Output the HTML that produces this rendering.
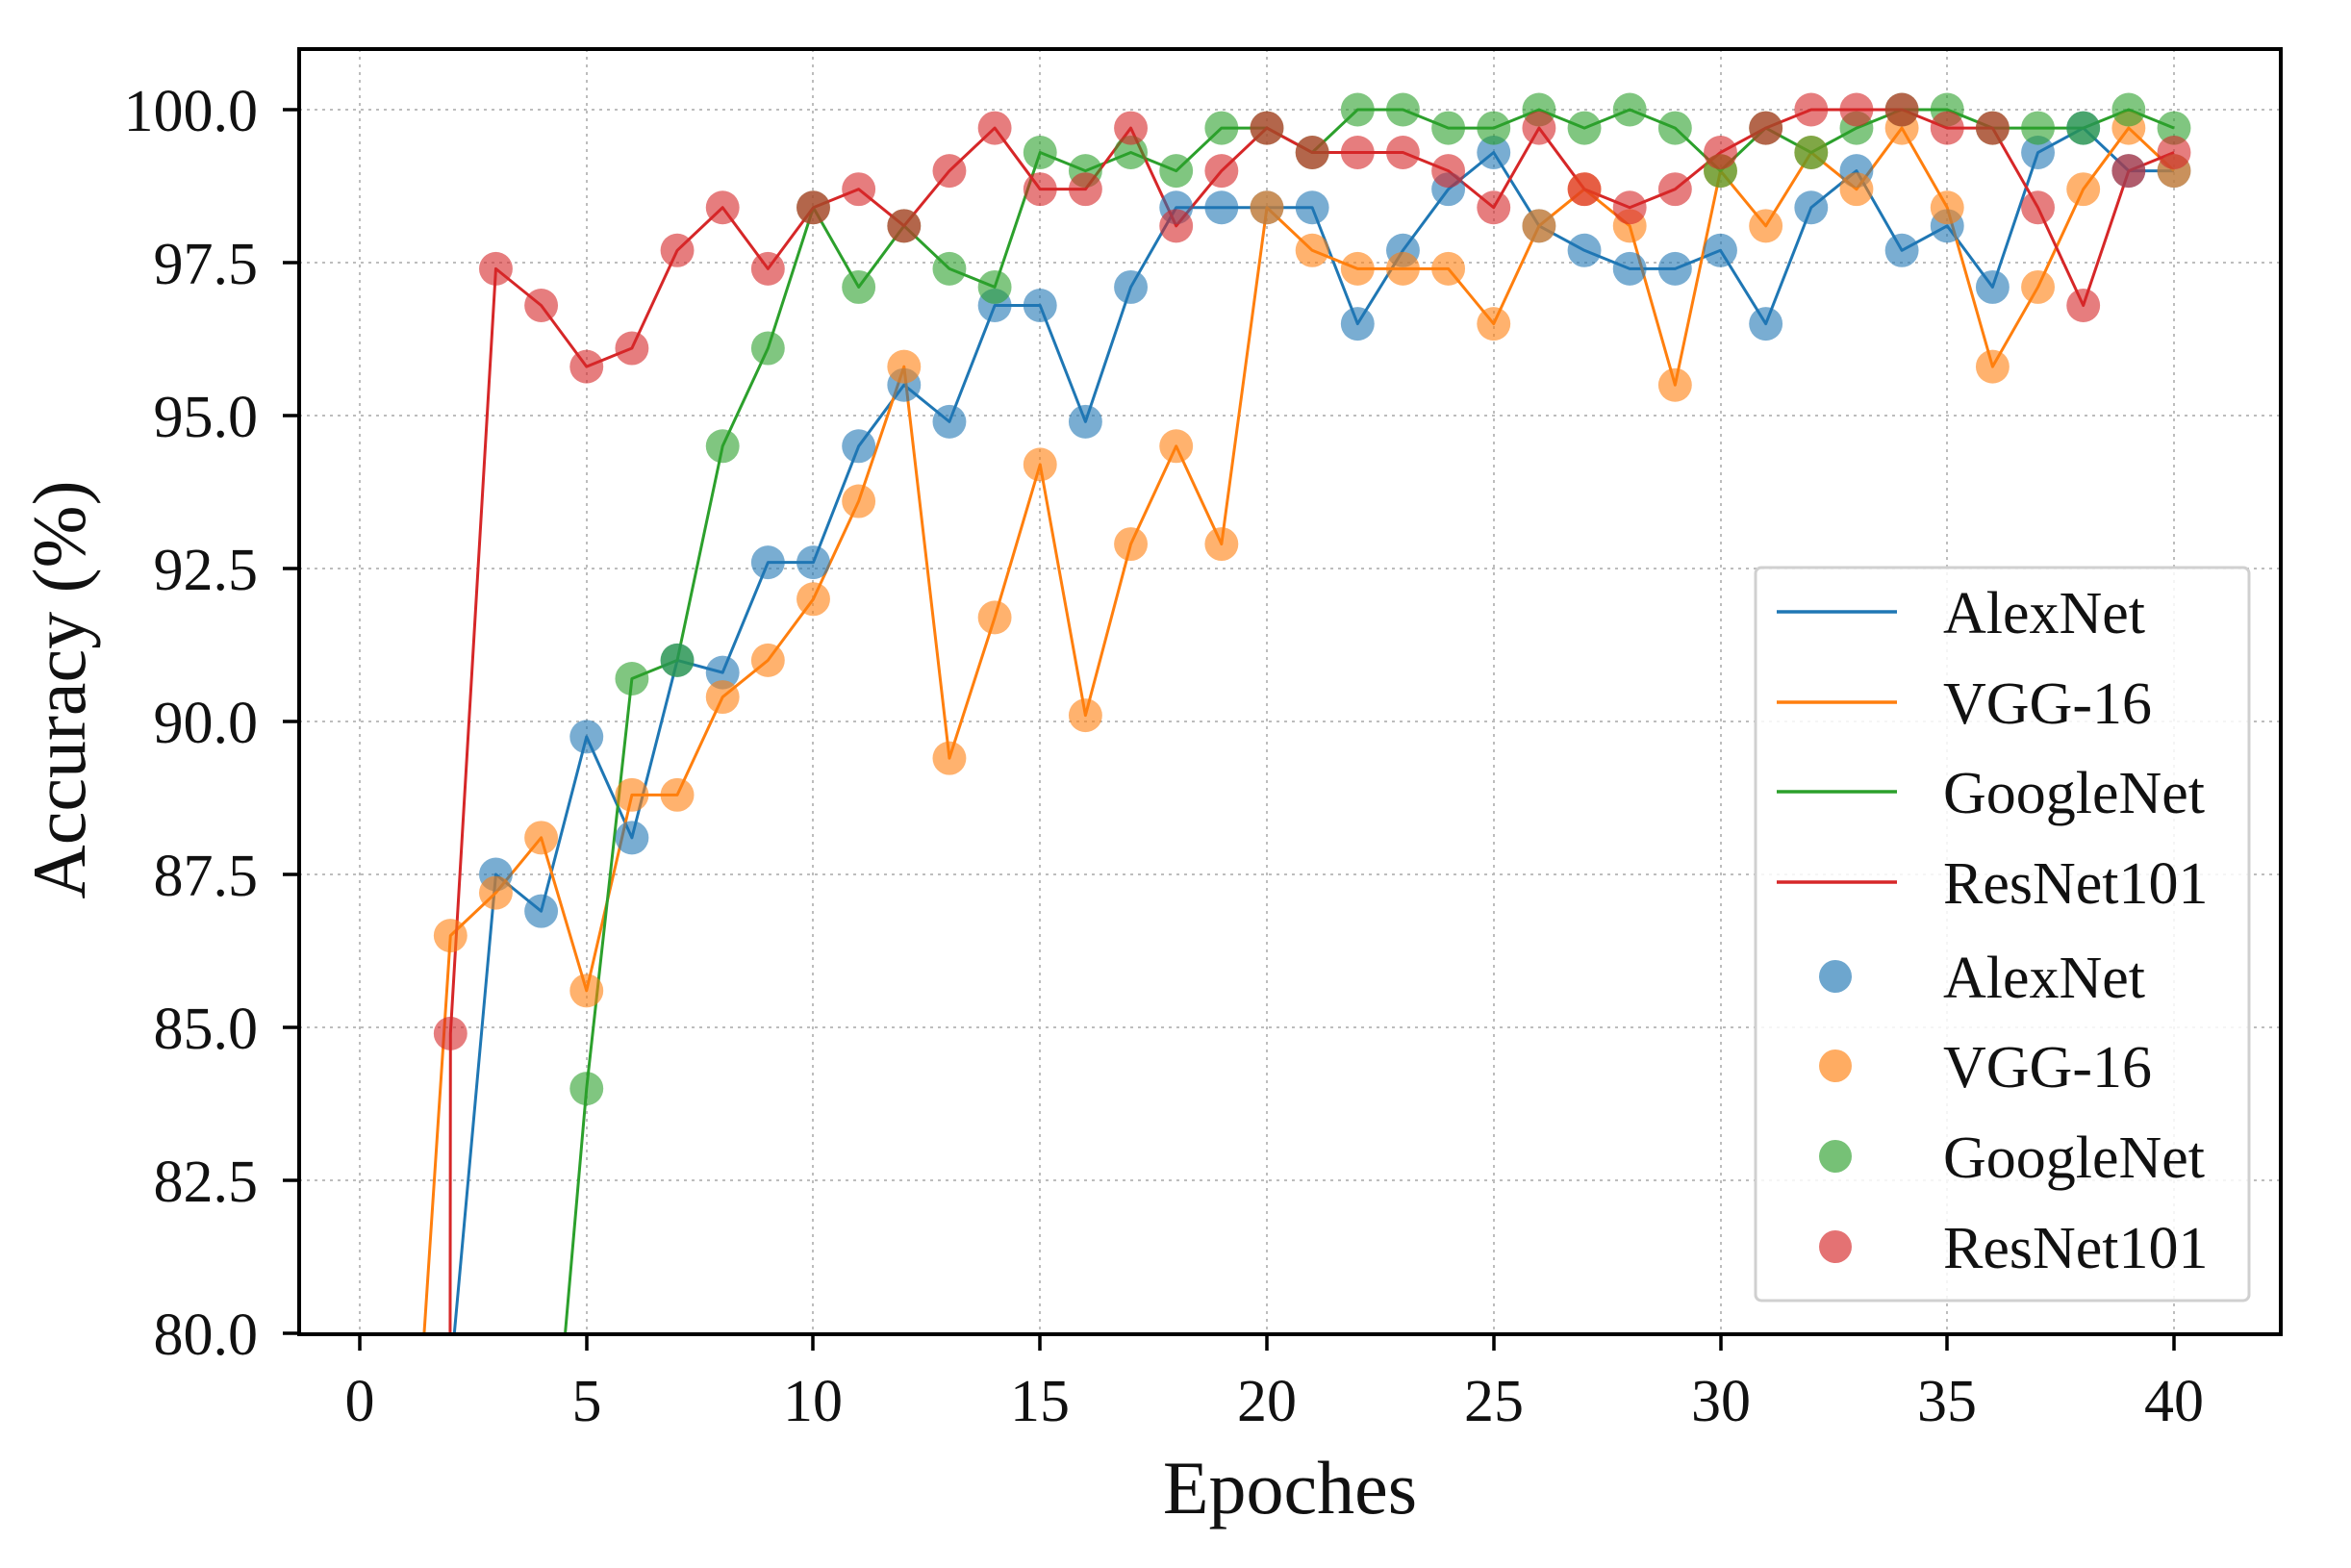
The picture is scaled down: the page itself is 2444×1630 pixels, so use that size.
<!DOCTYPE html>
<html><head><meta charset="utf-8"><style>
html,body{margin:0;padding:0;background:#fff;width:2444px;height:1630px;overflow:hidden;}
svg{display:block;}
text{font-family:"Liberation Serif",serif;fill:#111;}
</style></head><body>
<svg width="2444" height="1630" viewBox="0 0 2444 1630" xmlns="http://www.w3.org/2000/svg">
<defs>
<clipPath id="ax"><rect x="-1.34" y="80" width="43.69" height="21"/></clipPath>
</defs>
<rect width="2444" height="1630" fill="#fff"/>
<!-- grid -->
<g stroke="#bdbdbd" stroke-width="2" stroke-dasharray="3,5">
<line x1="374" y1="51" x2="374" y2="1386"/><line x1="610" y1="51" x2="610" y2="1386"/>
<line x1="845" y1="51" x2="845" y2="1386"/><line x1="1081" y1="51" x2="1081" y2="1386"/>
<line x1="1317" y1="51" x2="1317" y2="1386"/><line x1="1553" y1="51" x2="1553" y2="1386"/>
<line x1="1789" y1="51" x2="1789" y2="1386"/><line x1="2024" y1="51" x2="2024" y2="1386"/>
<line x1="2260" y1="51" x2="2260" y2="1386"/>
<line x1="311" y1="114" x2="2371" y2="114"/><line x1="311" y1="273" x2="2371" y2="273"/>
<line x1="311" y1="432" x2="2371" y2="432"/><line x1="311" y1="591" x2="2371" y2="591"/>
<line x1="311" y1="750" x2="2371" y2="750"/><line x1="311" y1="909" x2="2371" y2="909"/>
<line x1="311" y1="1068" x2="2371" y2="1068"/><line x1="311" y1="1227" x2="2371" y2="1227"/>
</g>
<g transform="matrix(47.15,0,0,-63.6,374,6474)" clip-path="url(#ax)">
<g fill="none" stroke-width="3" stroke-linejoin="round">
<polyline vector-effect="non-scaling-stroke" stroke="#1f77b4" points="2,79.3 3,87.5 4,86.9 5,89.75 6,88.1 7,91.0 8,90.8 9,92.6 10,92.6 11,94.5 12,95.5 13,94.9 14,96.8 15,96.8 16,94.9 17,97.1 18,98.4 19,98.4 20,98.4 21,98.4 22,96.5 23,97.7 24,98.7 25,99.3 26,98.1 27,97.7 28,97.4 29,97.4 30,97.7 31,96.5 32,98.4 33,99.0 34,97.7 35,98.1 36,97.1 37,99.3 38,99.7 39,99.0 40,99.0"/>
<polyline vector-effect="non-scaling-stroke" stroke="#ff7f0e" points="1,75.3 2,86.5 3,87.2 4,88.1 5,85.6 6,88.8 7,88.8 8,90.4 9,91.0 10,92.0 11,93.6 12,95.8 13,89.4 14,91.7 15,94.2 16,90.1 17,92.9 18,94.5 19,92.9 20,98.4 21,97.7 22,97.4 23,97.4 24,97.4 25,96.5 26,98.1 27,98.7 28,98.1 29,95.5 30,99.0 31,98.1 32,99.3 33,98.7 34,99.7 35,98.4 36,95.8 37,97.1 38,98.7 39,99.7 40,99.0"/>
<polyline vector-effect="non-scaling-stroke" stroke="#2ca02c" points="4,75.5 5,84.0 6,90.7 7,91.0 8,94.5 9,96.1 10,98.4 11,97.1 12,98.1 13,97.4 14,97.1 15,99.3 16,99.0 17,99.3 18,99.0 19,99.7 20,99.7 21,99.3 22,100 23,100 24,99.7 25,99.7 26,100 27,99.7 28,100 29,99.7 30,99.0 31,99.7 32,99.3 33,99.7 34,100 35,100 36,99.7 37,99.7 38,99.7 39,100 40,99.7"/>
<polyline vector-effect="non-scaling-stroke" stroke="#d62728" points="1.9,20 2,84.9 3,97.4 4,96.8 5,95.8 6,96.1 7,97.7 8,98.4 9,97.4 10,98.4 11,98.7 12,98.1 13,99.0 14,99.7 15,98.7 16,98.7 17,99.7 18,98.1 19,99.0 20,99.7 21,99.3 22,99.3 23,99.3 24,99.0 25,98.4 26,99.7 27,98.7 28,98.4 29,98.7 30,99.3 31,99.7 32,100 33,100 34,100 35,99.7 36,99.7 37,98.4 38,96.8 39,99.0 40,99.3"/>
</g>
<g fill="#1f77b4" fill-opacity="0.6">
<ellipse cx="3" cy="87.5" rx="0.37" ry="0.275"/><ellipse cx="4" cy="86.9" rx="0.37" ry="0.275"/><ellipse cx="5" cy="89.75" rx="0.37" ry="0.275"/><ellipse cx="6" cy="88.1" rx="0.37" ry="0.275"/><ellipse cx="7" cy="91.0" rx="0.37" ry="0.275"/><ellipse cx="8" cy="90.8" rx="0.37" ry="0.275"/><ellipse cx="9" cy="92.6" rx="0.37" ry="0.275"/><ellipse cx="10" cy="92.6" rx="0.37" ry="0.275"/><ellipse cx="11" cy="94.5" rx="0.37" ry="0.275"/><ellipse cx="12" cy="95.5" rx="0.37" ry="0.275"/><ellipse cx="13" cy="94.9" rx="0.37" ry="0.275"/><ellipse cx="14" cy="96.8" rx="0.37" ry="0.275"/><ellipse cx="15" cy="96.8" rx="0.37" ry="0.275"/><ellipse cx="16" cy="94.9" rx="0.37" ry="0.275"/><ellipse cx="17" cy="97.1" rx="0.37" ry="0.275"/><ellipse cx="18" cy="98.4" rx="0.37" ry="0.275"/><ellipse cx="19" cy="98.4" rx="0.37" ry="0.275"/><ellipse cx="20" cy="98.4" rx="0.37" ry="0.275"/><ellipse cx="21" cy="98.4" rx="0.37" ry="0.275"/><ellipse cx="22" cy="96.5" rx="0.37" ry="0.275"/><ellipse cx="23" cy="97.7" rx="0.37" ry="0.275"/><ellipse cx="24" cy="98.7" rx="0.37" ry="0.275"/><ellipse cx="25" cy="99.3" rx="0.37" ry="0.275"/><ellipse cx="26" cy="98.1" rx="0.37" ry="0.275"/><ellipse cx="27" cy="97.7" rx="0.37" ry="0.275"/><ellipse cx="28" cy="97.4" rx="0.37" ry="0.275"/><ellipse cx="29" cy="97.4" rx="0.37" ry="0.275"/><ellipse cx="30" cy="97.7" rx="0.37" ry="0.275"/><ellipse cx="31" cy="96.5" rx="0.37" ry="0.275"/><ellipse cx="32" cy="98.4" rx="0.37" ry="0.275"/><ellipse cx="33" cy="99.0" rx="0.37" ry="0.275"/><ellipse cx="34" cy="97.7" rx="0.37" ry="0.275"/><ellipse cx="35" cy="98.1" rx="0.37" ry="0.275"/><ellipse cx="36" cy="97.1" rx="0.37" ry="0.275"/><ellipse cx="37" cy="99.3" rx="0.37" ry="0.275"/><ellipse cx="38" cy="99.7" rx="0.37" ry="0.275"/><ellipse cx="39" cy="99.0" rx="0.37" ry="0.275"/><ellipse cx="40" cy="99.0" rx="0.37" ry="0.275"/>
</g>
<g fill="#ff7f0e" fill-opacity="0.6">
<ellipse cx="2" cy="86.5" rx="0.37" ry="0.275"/><ellipse cx="3" cy="87.2" rx="0.37" ry="0.275"/><ellipse cx="4" cy="88.1" rx="0.37" ry="0.275"/><ellipse cx="5" cy="85.6" rx="0.37" ry="0.275"/><ellipse cx="6" cy="88.8" rx="0.37" ry="0.275"/><ellipse cx="7" cy="88.8" rx="0.37" ry="0.275"/><ellipse cx="8" cy="90.4" rx="0.37" ry="0.275"/><ellipse cx="9" cy="91.0" rx="0.37" ry="0.275"/><ellipse cx="10" cy="92.0" rx="0.37" ry="0.275"/><ellipse cx="11" cy="93.6" rx="0.37" ry="0.275"/><ellipse cx="12" cy="95.8" rx="0.37" ry="0.275"/><ellipse cx="13" cy="89.4" rx="0.37" ry="0.275"/><ellipse cx="14" cy="91.7" rx="0.37" ry="0.275"/><ellipse cx="15" cy="94.2" rx="0.37" ry="0.275"/><ellipse cx="16" cy="90.1" rx="0.37" ry="0.275"/><ellipse cx="17" cy="92.9" rx="0.37" ry="0.275"/><ellipse cx="18" cy="94.5" rx="0.37" ry="0.275"/><ellipse cx="19" cy="92.9" rx="0.37" ry="0.275"/><ellipse cx="20" cy="98.4" rx="0.37" ry="0.275"/><ellipse cx="21" cy="97.7" rx="0.37" ry="0.275"/><ellipse cx="22" cy="97.4" rx="0.37" ry="0.275"/><ellipse cx="23" cy="97.4" rx="0.37" ry="0.275"/><ellipse cx="24" cy="97.4" rx="0.37" ry="0.275"/><ellipse cx="25" cy="96.5" rx="0.37" ry="0.275"/><ellipse cx="26" cy="98.1" rx="0.37" ry="0.275"/><ellipse cx="27" cy="98.7" rx="0.37" ry="0.275"/><ellipse cx="28" cy="98.1" rx="0.37" ry="0.275"/><ellipse cx="29" cy="95.5" rx="0.37" ry="0.275"/><ellipse cx="30" cy="99.0" rx="0.37" ry="0.275"/><ellipse cx="31" cy="98.1" rx="0.37" ry="0.275"/><ellipse cx="32" cy="99.3" rx="0.37" ry="0.275"/><ellipse cx="33" cy="98.7" rx="0.37" ry="0.275"/><ellipse cx="34" cy="99.7" rx="0.37" ry="0.275"/><ellipse cx="35" cy="98.4" rx="0.37" ry="0.275"/><ellipse cx="36" cy="95.8" rx="0.37" ry="0.275"/><ellipse cx="37" cy="97.1" rx="0.37" ry="0.275"/><ellipse cx="38" cy="98.7" rx="0.37" ry="0.275"/><ellipse cx="39" cy="99.7" rx="0.37" ry="0.275"/><ellipse cx="40" cy="99.0" rx="0.37" ry="0.275"/>
</g>
<g fill="#2ca02c" fill-opacity="0.6">
<ellipse cx="5" cy="84.0" rx="0.37" ry="0.275"/><ellipse cx="6" cy="90.7" rx="0.37" ry="0.275"/><ellipse cx="7" cy="91.0" rx="0.37" ry="0.275"/><ellipse cx="8" cy="94.5" rx="0.37" ry="0.275"/><ellipse cx="9" cy="96.1" rx="0.37" ry="0.275"/><ellipse cx="10" cy="98.4" rx="0.37" ry="0.275"/><ellipse cx="11" cy="97.1" rx="0.37" ry="0.275"/><ellipse cx="12" cy="98.1" rx="0.37" ry="0.275"/><ellipse cx="13" cy="97.4" rx="0.37" ry="0.275"/><ellipse cx="14" cy="97.1" rx="0.37" ry="0.275"/><ellipse cx="15" cy="99.3" rx="0.37" ry="0.275"/><ellipse cx="16" cy="99.0" rx="0.37" ry="0.275"/><ellipse cx="17" cy="99.3" rx="0.37" ry="0.275"/><ellipse cx="18" cy="99.0" rx="0.37" ry="0.275"/><ellipse cx="19" cy="99.7" rx="0.37" ry="0.275"/><ellipse cx="20" cy="99.7" rx="0.37" ry="0.275"/><ellipse cx="21" cy="99.3" rx="0.37" ry="0.275"/><ellipse cx="22" cy="100" rx="0.37" ry="0.275"/><ellipse cx="23" cy="100" rx="0.37" ry="0.275"/><ellipse cx="24" cy="99.7" rx="0.37" ry="0.275"/><ellipse cx="25" cy="99.7" rx="0.37" ry="0.275"/><ellipse cx="26" cy="100" rx="0.37" ry="0.275"/><ellipse cx="27" cy="99.7" rx="0.37" ry="0.275"/><ellipse cx="28" cy="100" rx="0.37" ry="0.275"/><ellipse cx="29" cy="99.7" rx="0.37" ry="0.275"/><ellipse cx="30" cy="99.0" rx="0.37" ry="0.275"/><ellipse cx="31" cy="99.7" rx="0.37" ry="0.275"/><ellipse cx="32" cy="99.3" rx="0.37" ry="0.275"/><ellipse cx="33" cy="99.7" rx="0.37" ry="0.275"/><ellipse cx="34" cy="100" rx="0.37" ry="0.275"/><ellipse cx="35" cy="100" rx="0.37" ry="0.275"/><ellipse cx="36" cy="99.7" rx="0.37" ry="0.275"/><ellipse cx="37" cy="99.7" rx="0.37" ry="0.275"/><ellipse cx="38" cy="99.7" rx="0.37" ry="0.275"/><ellipse cx="39" cy="100" rx="0.37" ry="0.275"/><ellipse cx="40" cy="99.7" rx="0.37" ry="0.275"/>
</g>
<g fill="#d62728" fill-opacity="0.6">
<ellipse cx="2" cy="84.9" rx="0.37" ry="0.275"/><ellipse cx="3" cy="97.4" rx="0.37" ry="0.275"/><ellipse cx="4" cy="96.8" rx="0.37" ry="0.275"/><ellipse cx="5" cy="95.8" rx="0.37" ry="0.275"/><ellipse cx="6" cy="96.1" rx="0.37" ry="0.275"/><ellipse cx="7" cy="97.7" rx="0.37" ry="0.275"/><ellipse cx="8" cy="98.4" rx="0.37" ry="0.275"/><ellipse cx="9" cy="97.4" rx="0.37" ry="0.275"/><ellipse cx="10" cy="98.4" rx="0.37" ry="0.275"/><ellipse cx="11" cy="98.7" rx="0.37" ry="0.275"/><ellipse cx="12" cy="98.1" rx="0.37" ry="0.275"/><ellipse cx="13" cy="99.0" rx="0.37" ry="0.275"/><ellipse cx="14" cy="99.7" rx="0.37" ry="0.275"/><ellipse cx="15" cy="98.7" rx="0.37" ry="0.275"/><ellipse cx="16" cy="98.7" rx="0.37" ry="0.275"/><ellipse cx="17" cy="99.7" rx="0.37" ry="0.275"/><ellipse cx="18" cy="98.1" rx="0.37" ry="0.275"/><ellipse cx="19" cy="99.0" rx="0.37" ry="0.275"/><ellipse cx="20" cy="99.7" rx="0.37" ry="0.275"/><ellipse cx="21" cy="99.3" rx="0.37" ry="0.275"/><ellipse cx="22" cy="99.3" rx="0.37" ry="0.275"/><ellipse cx="23" cy="99.3" rx="0.37" ry="0.275"/><ellipse cx="24" cy="99.0" rx="0.37" ry="0.275"/><ellipse cx="25" cy="98.4" rx="0.37" ry="0.275"/><ellipse cx="26" cy="99.7" rx="0.37" ry="0.275"/><ellipse cx="27" cy="98.7" rx="0.37" ry="0.275"/><ellipse cx="28" cy="98.4" rx="0.37" ry="0.275"/><ellipse cx="29" cy="98.7" rx="0.37" ry="0.275"/><ellipse cx="30" cy="99.3" rx="0.37" ry="0.275"/><ellipse cx="31" cy="99.7" rx="0.37" ry="0.275"/><ellipse cx="32" cy="100" rx="0.37" ry="0.275"/><ellipse cx="33" cy="100" rx="0.37" ry="0.275"/><ellipse cx="34" cy="100" rx="0.37" ry="0.275"/><ellipse cx="35" cy="99.7" rx="0.37" ry="0.275"/><ellipse cx="36" cy="99.7" rx="0.37" ry="0.275"/><ellipse cx="37" cy="98.4" rx="0.37" ry="0.275"/><ellipse cx="38" cy="96.8" rx="0.37" ry="0.275"/><ellipse cx="39" cy="99.0" rx="0.37" ry="0.275"/><ellipse cx="40" cy="99.3" rx="0.37" ry="0.275"/>
</g>
</g>
<!-- spines -->
<rect x="311" y="51" width="2060" height="1336" fill="none" stroke="#000" stroke-width="4"/>
<!-- ticks -->
<g stroke="#000" stroke-width="3.5">
<line x1="374" y1="1387" x2="374" y2="1404"/><line x1="610" y1="1387" x2="610" y2="1404"/><line x1="845" y1="1387" x2="845" y2="1404"/><line x1="1081" y1="1387" x2="1081" y2="1404"/><line x1="1317" y1="1387" x2="1317" y2="1404"/><line x1="1553" y1="1387" x2="1553" y2="1404"/><line x1="1789" y1="1387" x2="1789" y2="1404"/><line x1="2024" y1="1387" x2="2024" y2="1404"/><line x1="2260" y1="1387" x2="2260" y2="1404"/>
<line x1="294" y1="114" x2="311" y2="114"/><line x1="294" y1="273" x2="311" y2="273"/><line x1="294" y1="432" x2="311" y2="432"/><line x1="294" y1="591" x2="311" y2="591"/><line x1="294" y1="750" x2="311" y2="750"/><line x1="294" y1="909" x2="311" y2="909"/><line x1="294" y1="1068" x2="311" y2="1068"/><line x1="294" y1="1227" x2="311" y2="1227"/><line x1="294" y1="1386" x2="311" y2="1386"/>
</g>
<g font-size="62" text-anchor="middle">
<text x="374" y="1477">0</text><text x="610" y="1477">5</text><text x="845" y="1477">10</text><text x="1081" y="1477">15</text><text x="1317" y="1477">20</text><text x="1553" y="1477">25</text><text x="1789" y="1477">30</text><text x="2024" y="1477">35</text><text x="2260" y="1477">40</text>
</g>
<g font-size="62" text-anchor="end">
<text x="268" y="136">100.0</text><text x="268" y="295">97.5</text><text x="268" y="454">95.0</text><text x="268" y="613">92.5</text><text x="268" y="772">90.0</text><text x="268" y="931">87.5</text><text x="268" y="1090">85.0</text><text x="268" y="1249">82.5</text><text x="268" y="1408">80.0</text>
</g>
<text x="1341" y="1573" font-size="78" text-anchor="middle">Epoches</text>
<text transform="translate(88,717) rotate(-90)" font-size="78" text-anchor="middle">Accuracy (%)</text>
<!-- legend -->
<rect x="1825" y="590" width="513" height="762" rx="6" fill="#fff" fill-opacity="0.85" stroke="#d0d0d0" stroke-width="3"/>
<g stroke-width="3.5">
<line x1="1847" y1="636" x2="1972" y2="636" stroke="#1f77b4"/>
<line x1="1847" y1="730" x2="1972" y2="730" stroke="#ff7f0e"/>
<line x1="1847" y1="823" x2="1972" y2="823" stroke="#2ca02c"/>
<line x1="1847" y1="917" x2="1972" y2="917" stroke="#d62728"/>
</g>
<g fill-opacity="0.65">
<circle cx="1908" cy="1015" r="17" fill="#1f77b4"/>
<circle cx="1908" cy="1108" r="17" fill="#ff7f0e"/>
<circle cx="1908" cy="1202" r="17" fill="#2ca02c"/>
<circle cx="1908" cy="1296" r="17" fill="#d62728"/>
</g>
<g font-size="62">
<text x="2020" y="658">AlexNet</text><text x="2020" y="752">VGG-16</text><text x="2020" y="845">GoogleNet</text><text x="2020" y="939">ResNet101</text>
<text x="2020" y="1037">AlexNet</text><text x="2020" y="1130">VGG-16</text><text x="2020" y="1224">GoogleNet</text><text x="2020" y="1318">ResNet101</text>
</g>
</svg>
</body></html>
